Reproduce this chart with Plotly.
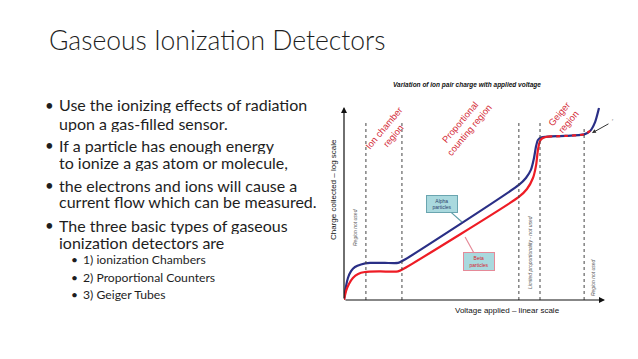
import plotly.graph_objects as go

W, H = 638, 359

# ---- data (voltage in arbitrary linear units, charge in arbitrary log units) ----
volt_alpha = [0, 0.8, 1.5, 2.7, 4.2, 6.5, 10.0, 15.7, 20.7, 23.0, 67.0, 69.7, 71.6, 72.8, 73.6, 74.3, 75.5, 78.2, 84.7, 92.0, 94.3, 96.2, 97.7]
charge_alpha = [0, 7.3, 11.4, 15.0, 17.1, 18.4, 19.2, 19.2, 19.2, 20.7, 59.6, 63.2, 67.4, 73.6, 79.8, 82.9, 84.2, 84.7, 85.0, 85.8, 87.6, 92.2, 99.5]
volt_beta = [0, 0.8, 1.9, 3.4, 5.4, 8.0, 13.8, 20.7, 23.0, 67.0, 70.1, 72.4, 73.6, 74.3, 75.1, 76.2, 78.2]
charge_beta = [0, 4.7, 8.3, 11.4, 13.5, 14.5, 14.8, 14.8, 16.3, 53.4, 57.5, 63.2, 69.9, 77.7, 82.4, 83.9, 84.7]
geiger_start = 17  # index in alpha curve where both curves merge

region_bounds = [8.4, 22.2, 67.0, 75.1, 92.0]
region_tops = [91.7, 91.7, 91.7, 91.7, 89.1]
region_labels = ["Ion chamber<br>region", "Proportional<br>counting region", "Geiger<br>region"]
region_label_x = [17.2, 46.4, 84.3]
region_label_y = [87.0, 90.2, 94.3]
unused_labels = ["Region not used", "Limited proportionality - not used", "Region not used"]
unused_x = [4.2, 71.3, 95.4]
unused_y = [37.8, 24.4, 11.9]

title = "Gaseous Ionization Detectors"
bullets = [
    ["Use the ionizing effects of radiation", "upon a gas-filled sensor."],
    ["If a particle has enough energy", "to ionize a gas atom or molecule,"],
    ["the electrons and ions will cause a", "current flow which can be measured."],
    ["The three basic types of gaseous", "ionization detectors are"],
]
sub_bullets = ["1) ionization Chambers", "2) Proportional Counters", "3) Geiger Tubes"]

# ---- layout helpers (page body has an 8px margin) ----
OFF = 8
X0, X1 = 344, 620
Y0, Y1 = 300, 100
def px(x):
    return (x - OFF) / W
def py(y):
    return 1 - (y - OFF) / H

fig = go.Figure()

BLUE = "#2a2f86"
RED = "#ee1c25"

fig.add_trace(go.Scatter(x=volt_alpha, y=charge_alpha, mode="lines",
                         line=dict(color=BLUE, width=2.2, shape="spline", smoothing=0.6),
                         hoverinfo="skip", showlegend=False))
fig.add_trace(go.Scatter(x=volt_beta, y=charge_beta, mode="lines",
                         line=dict(color=RED, width=2.2, shape="spline", smoothing=0.6),
                         hoverinfo="skip", showlegend=False))
fig.add_trace(go.Scatter(x=volt_alpha[geiger_start:geiger_start + 4], y=charge_alpha[geiger_start:geiger_start + 4],
                         mode="lines",
                         line=dict(color=RED, width=2.2, dash="4px,4px", shape="spline", smoothing=0.6),
                         hoverinfo="skip", showlegend=False))

# vertical dashed region boundaries
for xb, yt in zip(region_bounds, region_tops):
    fig.add_shape(type="line", xref="x", yref="y", x0=xb, x1=xb, y0=0, y1=yt,
                  line=dict(color="#444444", width=1, dash="dot"))

C = dict(xanchor="center", yanchor="middle")
annotations = []
# axes arrows
annotations.append(dict(x=100, y=0, ax=0, ay=0, xref="x", yref="y", axref="x", ayref="y",
                        showarrow=True, arrowhead=2, arrowsize=1, arrowwidth=1.2, arrowcolor="#111", text=""))
annotations.append(dict(x=0, y=100, ax=0, ay=0, xref="x", yref="y", axref="x", ayref="y",
                        showarrow=True, arrowhead=2, arrowsize=1, arrowwidth=1.2, arrowcolor="#111", text=""))

for t, xx, yy in zip(region_labels, region_label_x, region_label_y):
    annotations.append(dict(x=xx, y=yy, xref="x", yref="y", text=t, showarrow=False, textangle=-50,
                            font=dict(family="Liberation Sans", size=9.3, color="#d42a36"), **C))
for t, xx, yy in zip(unused_labels, unused_x, unused_y):
    annotations.append(dict(x=xx, y=yy, xref="x", yref="y", text="<i>" + t + "</i>", showarrow=False, textangle=-90,
                            font=dict(family="Liberation Sans", size=5, color="#555555"), **C))

# particle callouts
annotations.append(dict(x=45.2, y=40.4, ax=37.5, ay=49.7, xref="x", yref="y", axref="x", ayref="y",
                        text="Alpha<br>particles", showarrow=True, arrowhead=0, arrowwidth=1.2, arrowcolor="#5f9ea8",
                        bgcolor="#a9d9de", bordercolor="#6aa5b0", borderwidth=1, width=28, height=14,
                        font=dict(family="Liberation Sans", size=5, color="#2a3f6a")))
annotations.append(dict(x=46.4, y=32.6, ax=51.7, ay=19.7, xref="x", yref="y", axref="x", ayref="y",
                        text="Beta<br>particles", showarrow=True, arrowhead=0, arrowwidth=1.2, arrowcolor="#e58a98",
                        bgcolor="#a9d9de", bordercolor="#e58a98", borderwidth=1, width=28, height=15,
                        font=dict(family="Liberation Sans", size=5, color="#d8232a")))
# small arrow near Geiger end
annotations.append(dict(x=95.0, y=86.5, ax=101.9, ay=91.7, xref="x", yref="y", axref="x", ayref="y",
                        text="", showarrow=True, arrowhead=2, arrowsize=0.8, arrowwidth=1, arrowcolor="#333"))
annotations.append(dict(x=px(613), y=py(119), xref="paper", yref="paper", text="r", showarrow=False,
                        font=dict(family="Liberation Sans", size=4, color="#777"), **C))

# chart title and axis labels
annotations.append(dict(x=px(467), y=py(85), xref="paper", yref="paper", showarrow=False,
                        text="<b><i>Variation of ion pair charge with applied voltage</i></b>",
                        font=dict(family="Liberation Sans", size=6.5, color="#111"), **C))
annotations.append(dict(x=px(507), y=py(310), xref="paper", yref="paper", showarrow=False,
                        text="Voltage applied – linear scale",
                        font=dict(family="Liberation Sans", size=8, color="#111"), **C))
annotations.append(dict(x=px(333), y=py(190), xref="paper", yref="paper", showarrow=False, textangle=-90,
                        text="Charge collected – log scale",
                        font=dict(family="Liberation Sans", size=8, color="#111"), **C))

# slide title
annotations.append(dict(x=px(47), y=py(40), xref="paper", yref="paper", xanchor="left", yanchor="middle",
                        showarrow=False, text=title,
                        font=dict(family="Lato Light, Lato", size=26.5, weight=300, color="#1e1e1e")))

# bullets
main_y = [[105, 123], [145, 162], [185, 202], [225, 242]]
for lines, ys in zip(bullets, main_y):
    annotations.append(dict(x=px(43), y=py(ys[0]), xref="paper", yref="paper", xanchor="left", yanchor="middle",
                            showarrow=False, text="•", font=dict(family="Lato", size=15, color="#1e1e1e")))
    for line, yy in zip(lines, ys):
        annotations.append(dict(x=px(58), y=py(yy), xref="paper", yref="paper", xanchor="left", yanchor="middle",
                                showarrow=False, text=line, height=17, borderpad=0,
                                font=dict(family="Lato", size=16, color="#1e1e1e")))
for line, yy in zip(sub_bullets, [260, 277, 294]):
    annotations.append(dict(x=px(69), y=py(yy), xref="paper", yref="paper", xanchor="left", yanchor="middle",
                            showarrow=False, text="•", font=dict(family="Lato", size=12, color="#1e1e1e")))
    annotations.append(dict(x=px(81), y=py(yy), xref="paper", yref="paper", xanchor="left", yanchor="middle",
                            showarrow=False, text=line, font=dict(family="Lato", size=12.2, color="#1e1e1e")))

fig.update_layout(
    width=W, height=H,
    margin=dict(l=0, r=0, t=0, b=0),
    paper_bgcolor="white", plot_bgcolor="white",
    xaxis=dict(domain=[px(X0), px(X1)], range=[0, (X1 - X0) / 2.61], visible=False, fixedrange=True),
    yaxis=dict(domain=[py(Y0), py(Y1)], range=[0, (Y0 - Y1) / 1.93], visible=False, fixedrange=True),
    annotations=annotations,
    showlegend=False,
)

fig.write_html("out.html")
